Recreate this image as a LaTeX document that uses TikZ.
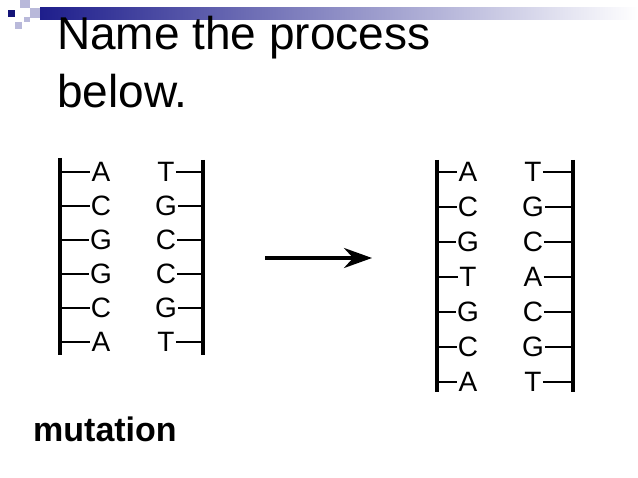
\documentclass[tikz,border=0pt]{standalone}
\usepackage{fontspec}
\setmainfont{Liberation Sans}
\usetikzlibrary{arrows.meta}
\definecolor{navy}{RGB}{30,30,140}
\definecolor{navyd}{RGB}{20,20,120}
\definecolor{lav}{RGB}{185,185,218}
\begin{document}
\begin{tikzpicture}[x=1pt,y=-1pt,
  base/.style={font=\fontsize{28}{28}\selectfont},
  bb/.style={line width=4pt},
  tick/.style={line width=2pt}]
\useasboundingbox (0,0) rectangle (638,478);
\fill[white] (0,0) rectangle (638,478);
% header decoration
\shade[left color=navy, right color=white] (40,8) rectangle (638,20);
\fill[lav] (20,0) rectangle (30,8);
\fill[lav] (30,8) rectangle (40,18);
\fill[navyd] (8,10) rectangle (15,17);
\fill[lav] (15,22) rectangle (22,29);
\fill[lav] (24,17) rectangle (30,22);
\node[anchor=base west,font=\fontsize{46}{46}\selectfont,inner sep=0pt] (t1) at (57,50) {Name the process};
\node[anchor=base west,font=\fontsize{46}{46}\selectfont,inner sep=0pt] (t2) at (57,108) {below.};
% left ladder
\draw[bb] (60,158) -- (60,355);
\draw[bb] (203,160) -- (203,355);
\foreach \l/\r [count=\i from 0] in {A/T,C/G,G/C,G/C,C/G,A/T}{
  \pgfmathsetmacro\yy{172+34*\i}
  \node[base,inner sep=1pt] (la\i) at (101,\yy) {\l};
  \node[base,inner sep=1pt] (ra\i) at (166,\yy) {\r};
  \draw[tick] (60,\yy) -- (la\i.west);
  \draw[tick] (ra\i.east) -- (203,\yy);
}
% arrow
\coordinate (a1) at (265,258);
\coordinate (a2) at (372,258);
\draw[line width=3.5pt,-{Stealth[length=28pt,width=20pt]}] (a1) -- (a2);
% right ladder
\draw[bb] (437,160) -- (437,392);
\draw[bb] (573,160) -- (573,392);
\foreach \l/\r [count=\i from 0] in {A/T,C/G,G/C,T/A,G/C,C/G,A/T}{
  \pgfmathsetmacro\yy{172+35*\i}
  \node[base,inner sep=1pt] (lb\i) at (468,\yy) {\l};
  \node[base,inner sep=1pt] (rb\i) at (533,\yy) {\r};
  \draw[tick] (437,\yy) -- (lb\i.west);
  \draw[tick] (rb\i.east) -- (573,\yy);
}
\node[anchor=base west,inner sep=0pt,font=\bfseries\fontsize{34}{34}\selectfont] (m) at (33,442) {mutation};
\end{tikzpicture}
\end{document}
